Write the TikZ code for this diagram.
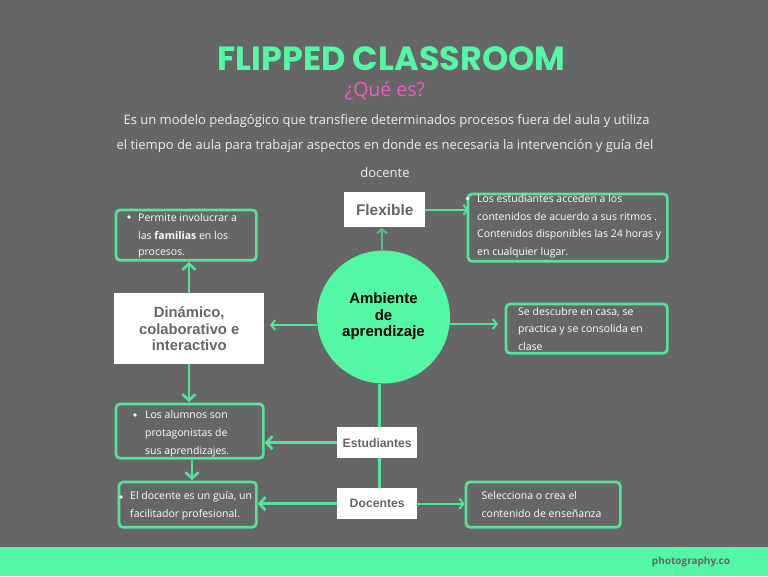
\documentclass[tikz,border=0pt]{standalone}
\usepackage{fontspec}
\setmainfont{Open Sans}
\newfontfamily\pop{Poppins}
\newfontfamily\lib{Liberation Sans}
\usetikzlibrary{arrows.meta,calc}
\definecolor{mint}{HTML}{54F7A3}
\definecolor{edge}{HTML}{57E29C}
\definecolor{slate}{HTML}{666666}
\tikzset{
 x=1pt,y=-1pt,
 link/.style={draw=edge,line width=2.6pt,-{Straight Barb[length=6pt,width=13pt,line width=2.6pt]}},
 thin link/.style={draw=edge,line width=2pt,-{Straight Barb[length=4pt,width=10pt,line width=2pt]}},
 plain/.style={draw=edge,line width=2.6pt},
 card/.style={draw=edge,line width=2.7pt,rounded corners=4pt,fill=slate,inner sep=0pt,anchor=north west},
 label/.style={fill=white,inner sep=0pt,anchor=north west,text=slate,align=center},
 txt/.style={text=white,anchor=west,inner sep=0pt,font=\fontsize{10.5}{12}\selectfont},
 dotm/.style={circle,fill=white,inner sep=0pt,minimum size=3.6pt},
 para/.style={text=white!88!slate,inner sep=0pt,font=\fontsize{13}{15}\selectfont}
}
\begin{document}
\begin{tikzpicture}
\useasboundingbox (0,0) rectangle (768,576);
\fill[slate] (0,0) rectangle (768,576);
\fill[mint] (0,547) rectangle (768,576);
\node[inner sep=0pt,text=mint,font=\pop\bfseries\fontsize{33.5}{36}\selectfont] (title) at (391.5,59) {FLIPPED CLASSROOM};
\node[inner sep=0pt,text={rgb,255:red,242;green,92;blue,192},font=\fontsize{19.5}{21}\selectfont] (que) at (385,91) {¿Qué es?};
\node[para] (p1) at (386.5,121.5) {Es un modelo pedagógico que transfiere determinados procesos fuera del aula y utiliza};
\node[para] (p2) at (385,146.5) {el tiempo de aula para trabajar aspectos en donde es necesaria la intervención y guía del};
\node[para] (p3) at (385,172.5) {docente};

% boxes
\node[card,minimum width=140.3pt,minimum height=50.3pt] (fam) at (114.7,208.6) {};
\node[card,minimum width=199.3pt,minimum height=67.3pt] (est) at (466.7,192.6) {};
\node[card,minimum width=161.3pt,minimum height=49.3pt] (des) at (504.7,302.6) {};
\node[card,minimum width=147.3pt,minimum height=54.3pt] (alu) at (114.7,402.6) {};
\node[card,minimum width=137.3pt,minimum height=45.3pt] (doc) at (117.7,480.6) {};
\node[card,minimum width=154.3pt,minimum height=45.3pt] (sel) at (464.7,480.6) {};

\node[label,minimum width=81pt,minimum height=35pt,font=\lib\bfseries\fontsize{15.4}{17}\selectfont] (flex) at (344,192) {Flexible};
\node[label,minimum width=150pt,minimum height=71pt,font=\lib\bfseries\fontsize{14.8}{16.4}\selectfont] (din) at (114,293) {Dinámico,\\colaborativo e\\interactivo};
\node[label,minimum width=80pt,minimum height=31pt,font=\lib\bfseries\fontsize{12.2}{13}\selectfont] (estu) at (337,427) {Estudiantes};
\node[label,minimum width=80pt,minimum height=31pt,font=\lib\bfseries\fontsize{12.2}{13}\selectfont] (doce) at (337,488) {Docentes};
\node[circle,fill=mint,minimum size=133pt,inner sep=0pt,text=black,font=\lib\bfseries\fontsize{15}{16.4}\selectfont] (amb) at (383.5,317) {\raisebox{-2pt}{\begin{tabular}{@{}c@{}}Ambiente\\de\\aprendizaje\end{tabular}}};

% connectors
\draw[thin link,draw=edge!65!slate] (amb.north -| 382,0) -- (382,228);
\draw[thin link,shorten >=-2pt] (flex.east) -- (flex.east -| est.west);
\draw[link] (din.north -| 189,0) -- (189,262);
\coordinate (dinL) at (270,325);
\draw[thin link] (amb.west |- dinL) -- (dinL);
\coordinate (desL) at (498,324);
\draw[thin link] (amb.east |- desL) -- (desL);
\draw[link] (din.south -| 189,0) -- (189,402);
\draw[link] (estu.west) -- (estu.west -| alu.east);
\draw[link] (192,460) -- (192,480);
\draw[link] (doce.west) -- (doce.west -| doc.east);
\draw[thin link] (doce.east) -- (doce.east -| sel.west);
\draw[plain] (amb.south -| 379.5,0) -- (379.5,427);
\draw[plain] (379.5,458) -- (379.5,488);

% box texts
\node[dotm] (d1) at (129,217) {};
\node[txt] (t1a) at (138,217.5) {Permite involucrar a};
\node[txt] (t1b) at (138,235.5) {las \textbf{familias} en los};
\node[txt] (t1c) at (138,254) {procesos.};

\node[dotm] (d2) at (467.5,198.5) {};
\node[txt] (t2a) at (477,199) {Los estudiantes acceden a los};
\node[txt] (t2b) at (477,217) {contenidos de acuerdo a sus ritmos .};
\node[txt] (t2c) at (477,235) {Contenidos disponibles las 24 horas y};
\node[txt] (t2d) at (477,253) {en cualquier lugar.};

\node[txt] (t3a) at (518,312) {Se descubre en casa, se};
\node[txt] (t3b) at (518,329.5) {practica y se consolida en};
\node[txt] (t3c) at (518,347) {clase};

\node[dotm] (d4) at (135,415) {};
\node[txt] (t4a) at (145,415) {Los alumnos son};
\node[txt] (t4b) at (145,434) {protagonistas de};
\node[txt] (t4c) at (145,451.5) {sus aprendizajes.};

\node[dotm] (d5) at (121,497) {};
\node[txt] (t5a) at (130,497) {El docente es un guía, un};
\node[txt] (t5b) at (130,515) {facilitador profesional.};

\node[txt] (t6a) at (481.5,496) {Selecciona o crea el};
\node[txt] (t6b) at (481.5,514) {contenido de enseñanza};

\node[inner sep=0pt,text=slate,font=\bfseries\fontsize{10}{11}\selectfont] (ph) at (691,562) {photography.co};
\end{tikzpicture}
\end{document}
